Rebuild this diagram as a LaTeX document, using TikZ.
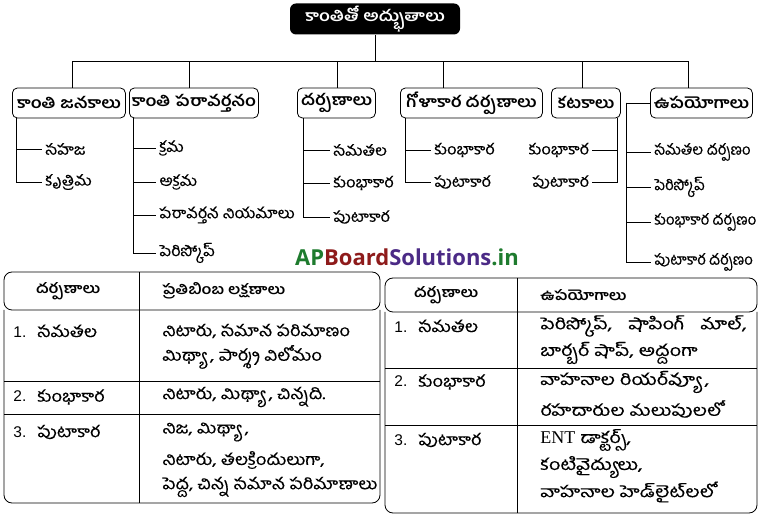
\documentclass[tikz,border=0pt]{standalone}
\usepackage{fontspec}
\newfontfamily\te[Script=Telugu,FakeStretch=1.15]{Hind Guntur}
\newfontfamily\ted[Script=Telugu,FakeStretch=1.15,FakeBold=0.4]{Hind Guntur}
\newfontfamily\tew[Script=Telugu,FakeStretch=1.25,FakeBold=0.4]{Hind Guntur}
\newfontfamily\ten[Script=Telugu,FakeBold=0.4]{Hind Guntur}
\newfontfamily\tens[Script=Telugu,FakeStretch=1.1,FakeBold=0.4]{Hind Guntur}
\newfontfamily\wm{Open Sans}
\newfontfamily\tms{Liberation Serif}
\newfontfamily\num{Liberation Sans}
\newcommand\cmy{\kern4pt,}
\newcommand\nm[1]{\makebox[24pt][l]{\num\fontsize{15.5}{17}\selectfont #1}}
\definecolor{wmgreen}{HTML}{1E7B2E}
\definecolor{wmred}{HTML}{8E1B1B}
\definecolor{wmpurple}{HTML}{4B2A86}
\begin{document}
\begin{tikzpicture}[x=1pt,y=-1pt,
  line width=0.8pt,
  topbox/.style={fill=black, rounded corners=6pt, minimum width=170pt, minimum height=31pt, inner sep=0pt, text=white, font=\te\fontsize{15.5}{17}\selectfont\bfseries},
  lvl/.style={draw, rounded corners=5pt, minimum height=30pt, inner sep=0pt, anchor=west, font=\te\fontsize{15.5}{17}\selectfont\bfseries},
  leaf/.style={anchor=west, inner sep=3pt, font=\tens\fontsize{15}{17}\selectfont},
  leafu/.style={anchor=west, inner sep=3pt, font=\ten\fontsize{15}{17}\selectfont},
  leafr/.style={anchor=east, inner sep=3pt, font=\tens\fontsize{15}{17}\selectfont},
  tbl/.style={draw, rounded corners=8pt},
  th/.style={inner sep=0pt, font=\te\fontsize{14}{16}\selectfont\bfseries},
  tl/.style={anchor=west, inner sep=0pt, font=\ted\fontsize{16}{18}\selectfont},
  tdl/.style={anchor=west, inner sep=0pt, font=\ted\fontsize{16}{18}\selectfont},
  td/.style={anchor=west, inner sep=0pt, font=\tew\fontsize{16}{18}\selectfont}
]
\useasboundingbox (0,0) rectangle (761,518);

% top
\node[topbox] (top) at (375,19) {కాంతితో అద్భుతాలు};
\coordinate (bus) at (375,61);
\draw (top.south) -- (bus);

% level 1
\node[lvl, minimum width=113pt] (jan) at (12,103) {కాంతి జనకాలు};
\node[lvl, minimum width=129pt] (par) at (129,103) {కాంతి పరావర్తనం};
\node[lvl, minimum width=78pt] (dar) at (297,103) {దర్పణాలు};
\node[lvl, minimum width=142pt] (gol) at (400,103) {గోళాకార దర్పణాలు};
\node[lvl, minimum width=69pt] (kat) at (551,103) {కటకాలు};
\node[lvl, minimum width=102pt] (upa) at (650,103) {ఉపయోగాలు};

\draw ([xshift=60pt]jan.north west) |- (bus);
\draw ([xshift=60pt]par.north west) |- (bus);
\draw ([xshift=40pt]dar.north west) |- (bus);
\draw ([xshift=43pt]gol.north west) |- (bus);
\draw ([xshift=31pt]kat.north west) |- (bus);
\draw ([xshift=38pt]upa.north west) |- (bus);

% children jan
\node[leaf] (j1) at (42,149) {సహజ};
\node[leaf] (j2) at (42,182) {కృత్రిమ};
\draw ([xshift=4pt]jan.south west) |- (j1.west);
\draw ([xshift=4pt]jan.south west) |- (j2.west);

% children par
\node[leaf] (p1) at (156,148) {క్రమ};
\node[leaf] (p2) at (156,182) {అక్రమ};
\node[leaf] (p3) at (156,215) {పరావర్తన నియమాలు};
\node[leaf] (p4) at (156,253) {పెరిస్కోప్};
\foreach \c in {p1,p2,p3,p4}
  \draw ([xshift=4pt]par.south west) |- (\c.west);

% children dar
\node[leaf] (d1) at (330,150) {సమతల};
\node[leaf] (d2) at (330,183) {కుంభాకార};
\node[leaf] (d3) at (330,217) {పుటాకార};
\foreach \c in {d1,d2,d3}
  \draw ([xshift=6pt]dar.south west) |- (\c.west);

% children gol
\node[leaf] (g1) at (431,150) {కుంభాకార};
\node[leaf] (g2) at (431,182) {పుటాకార};
\foreach \c in {g1,g2}
  \draw ([xshift=5pt]gol.south west) |- (\c.west);

% children kat
\node[leafr] (k1) at (592,150) {కుంభాకార};
\node[leafr] (k2) at (592,182) {పుటాకార};
\foreach \c in {k1,k2}
  \draw ([xshift=-3pt]kat.south east) |- (\c.east);

% children upa
\node[leafu] (u1) at (651,152) {సమతల దర్పణం};
\node[leafu] (u2) at (651,187) {పెరిస్కోప్};
\node[leafu] (u3) at (651,222) {కుంభాకార దర్పణం};
\node[leafu] (u4) at (651,262) {పుటాకార దర్పణం};
\coordinate (uj) at (626,103);
\draw (upa.west) -- (uj);
\foreach \c in {u1,u2,u3,u4}
  \draw (uj) |- (\c.west);

% watermark
\node[inner sep=0pt, font=\wm\bfseries\fontsize{22}{24}\selectfont] (wm) at (407,257)
  {\textcolor{wmgreen}{AP}\textcolor{wmred}{Board}\textcolor{wmpurple}{Solutions}\textcolor{wmgreen}{.in}};

% left table
\draw[tbl] (4,272) rectangle (380,310);
\draw[rounded corners=8pt] (4,310) -- (4,503) -- (380,503) -- (380,310);
\draw (139,272) -- (139,503);
\draw (4,381) -- (380,381);
\draw (4,414) -- (380,414);
\node[th] (lh1) at (68,291) {దర్పణాలు};
\node[th, anchor=west] (lh2) at (162,291) {ప్రతిబింబ లక్షణాలు};
\node[tl] (l11) at (13,331) {\nm{1.}సమతల};
\node[tdl] (l12) at (162,331) {నిటారు, సమాన పరిమాణం};
\node[tdl] (l13) at (162,357) {మిథ్యా\cmy{} పార్శ్వ విలోమం};
\node[tl] (l21) at (13,397) {\nm{2.}కుంభాకార};
\node[tdl] (l22) at (162,397) {నిటారు, మిథ్యా\cmy{} చిన్నది.};
\node[tl] (l31) at (13,432) {\nm{3.}పుటాకార};
\node[tdl] (l32) at (162,432) {నిజ, మిథ్యా\cmy};
\node[tdl] (l33) at (162,460) {నిటారు, తలక్రిందులుగా,};
\node[tdl] (l34) at (162,487) {పెద్ద, చిన్న సమాన పరిమాణాలు};

% right table
\draw[tbl] (385,278) rectangle (757,312);
\draw[rounded corners=8pt] (385,312) -- (385,513) -- (757,513) -- (757,312);
\draw (517,278) -- (517,513);
\draw (385,368) -- (757,368);
\draw (385,425) -- (757,425);
\node[th] (rh1) at (446,295) {దర్పణాలు};
\node[th, anchor=west] (rh2) at (540,295) {ఉపయోగాలు};
\node[tl] (r11) at (394,326) {\nm{1.}సమతల};
\node[td] (r12) at (540,326) {పెరిస్కోప్,\quad షాపింగ్\quad మాల్,};
\node[td] (r13) at (540,353) {బార్బర్ షాప్, అద్దంగా};
\node[tl] (r21) at (394,382) {\nm{2.}కుంభాకార};
\node[td] (r22) at (540,382) {వాహనాల రియర్‌వ్యూ\cmy};
\node[td] (r23) at (540,409) {రహదారుల మలుపులలో};
\node[tl] (r31) at (394,440) {\nm{3.}పుటాకార};
\node[td] (r32) at (540,440) {{\tms\fontsize{18}{20}\selectfont ENT} డాక్టర్స్,};
\node[td] (r33) at (540,467) {కంటివైద్యులు,};
\node[td] (r34) at (540,492) {వాహనాల హెడ్‌లైట్‌లలో};
\end{tikzpicture}
\end{document}
